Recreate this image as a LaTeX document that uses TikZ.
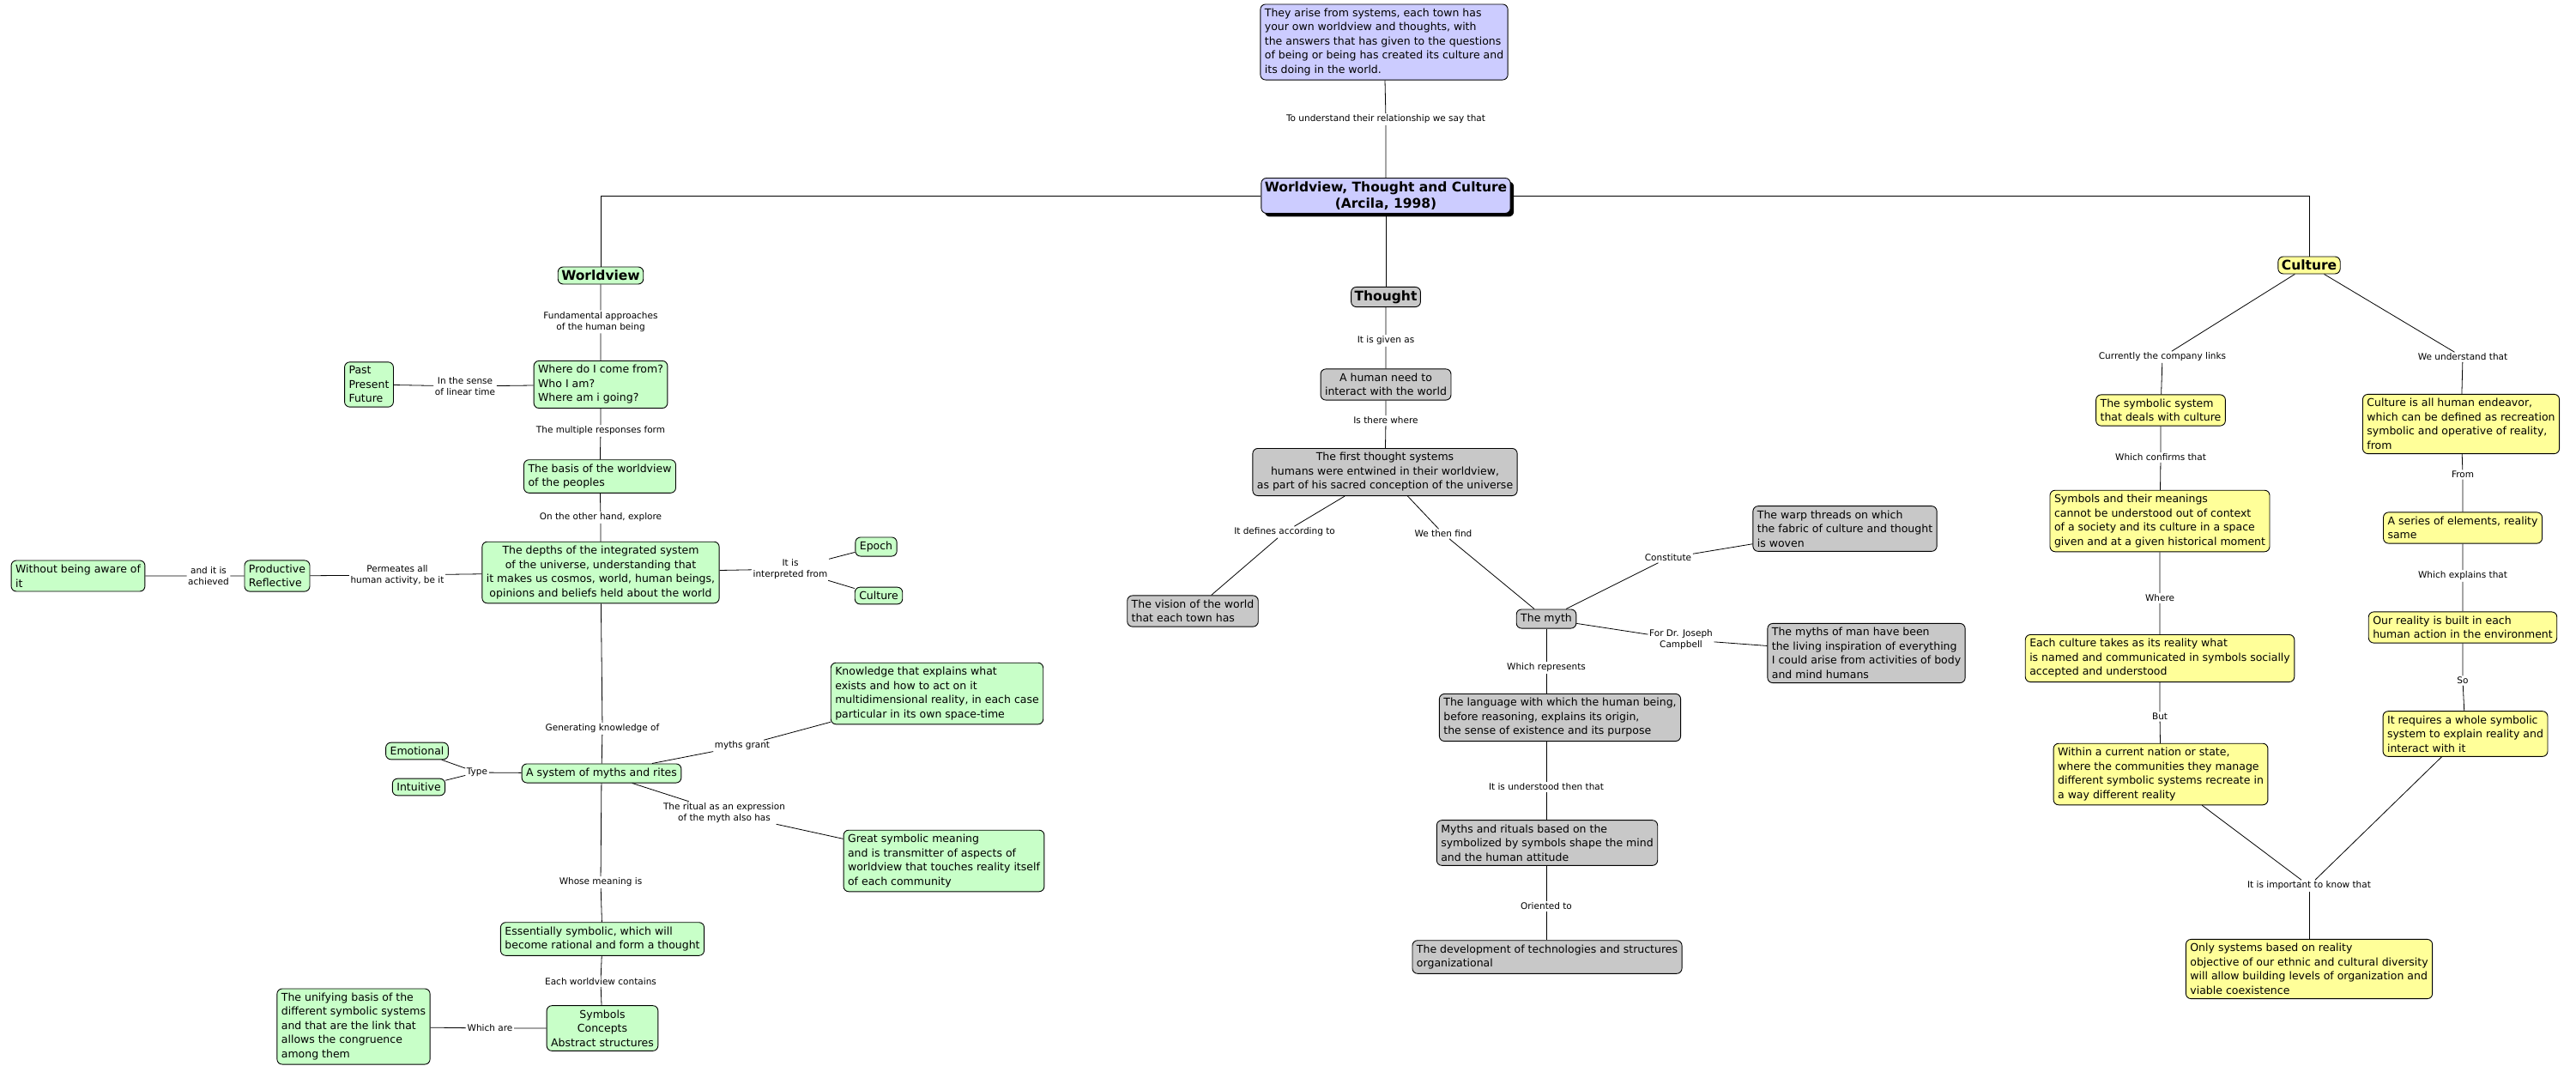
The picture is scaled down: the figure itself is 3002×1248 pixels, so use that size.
\documentclass[tikz,border=0pt]{standalone}
\usepackage{fontspec}
\setmainfont{DejaVu Sans}
\usetikzlibrary{positioning, shadows}

\definecolor{wvgreen}{HTML}{C8FFC8}
\definecolor{thgray}{HTML}{C8C8C8}
\definecolor{cuyellow}{HTML}{FFFF99}
\definecolor{tiblue}{HTML}{CCCCFF}

\tikzset{
  box/.style={draw=black, line width=0.9pt, rounded corners=6pt, inner sep=5pt,
    font=\fontsize{12.5}{16.5}\selectfont},
  green/.style={box, fill=wvgreen},
  gray/.style={box, fill=thgray},
  yellow/.style={box, fill=cuyellow},
  blue/.style={box, fill=tiblue},
  head/.style={font=\bfseries\fontsize{15.5}{19}\selectfont, inner sep=4pt},
  lbl/.style={inner sep=1.5pt, align=center, font=\fontsize{10.5}{13}\selectfont},
  link/.style={line width=0.8pt},
}

\begin{document}
\begin{tikzpicture}[x=1pt, y=-1pt]
        \useasboundingbox (0, 0) rectangle (3002, 1248);

        % title and the three branches
        \node[blue, align=left] (top) at (1613, 49) {They arise from systems, each town has\\your own worldview and thoughts, with\\the answers that has given to the questions\\of being or being has created its culture and\\its doing in the world.};
        \node[blue, head, align=center, drop shadow={fill=black, opacity=1, shadow xshift=4pt, shadow yshift=-4pt}] (title) at (1615, 228) {Worldview, Thought and Culture\\(Arcila, 1998)};
        \node[lbl] (ltop) at (1615, 139) {To understand their relationship we say that};
        \node[green, head] (wv) at (700, 321) {Worldview};
        \node[gray, head] (th) at (1615, 346) {Thought};
        \node[yellow, head] (cul) at (2691, 309) {Culture};

        \draw[link] (top) -- (ltop) -- (title);
        \draw[link] (title.west) -| (wv.north);
        \draw[link] (title.east) -| (cul.north);
        \draw[link] (title) -- (th);

        % worldview
        \node[lbl] (lfund) at (700, 375) {Fundamental approaches\\of the human being};
        \node[green, align=left] (where) at (700, 448) {Where do I come from?\\Who I am?\\Where am i going?};
        \node[green, align=left] (past) at (430, 448) {Past\\Present\\Future};
        \node[lbl] (lsense) at (542, 450) {In the sense\\of linear time};
        \node[lbl] (lmult) at (700, 502) {The multiple responses form};
        \node[green, align=left] (basis) at (699, 555) {The basis of the worldview\\ of the peoples};
        \node[lbl] (lother) at (700, 603) {On the other hand, explore};
        \node[green, align=center] (depths) at (700, 667) {The depths of the integrated system\\of the universe, understanding that\\it makes us cosmos, world, human beings,\\opinions and beliefs held about the world};
        \node[lbl] (lperm) at (463, 670) {Permeates all\\human activity, be it};
        \node[green, align=left] (prod) at (323, 671) {Productive\\Reflective};
        \node[lbl] (lach) at (243, 671) {and it is\\achieved};
        \node[green, align=left] (without) at (91, 671) {Without being aware of\\it};
        \node[lbl] (linterp) at (921, 663) {It is\\interpreted from};
        \node[green] (epoch) at (1021, 637) {Epoch};
        \node[green] (culw) at (1024, 694) {Culture};

        \node[lbl] (lgen) at (702, 849) {Generating knowledge of};
        \node[green] (myths) at (701, 901) {A system of myths and rites};
        \node[green] (emo) at (486, 875) {Emotional};
        \node[green] (intu) at (488, 917) {Intuitive};
        \node[lbl] (ltype) at (556, 900) {Type};
        \node[lbl] (lgrant) at (865, 869) {myths grant};
        \node[green, align=left] (know) at (1092, 808) {Knowledge that explains what\\exists and how to act on it\\multidimensional reality, in each case\\particular in its own space-time};
        \node[lbl] (lritual) at (844, 947) {The ritual as an expression\\of the myth also has};
        \node[green, align=left] (great) at (1100, 1003) {Great symbolic meaning\\and is transmitter of aspects of\\worldview that touches reality itself\\of each community};
        \node[lbl] (lwhose) at (700, 1028) {Whose meaning is};
        \node[green, align=left] (ess) at (702, 1094) {Essentially symbolic, which will\\become rational and form a thought};
        \node[lbl] (leach) at (700, 1144) {Each worldview contains};
        \node[green, align=center] (sym) at (702, 1198) {Symbols\\Concepts\\Abstract structures};
        \node[lbl] (lare) at (571, 1198) {Which are};
        \node[green, align=left] (unif) at (412, 1196) {The unifying basis of the\\different symbolic systems\\and that are the link that\\allows the congruence\\among them};

        \draw[link] (wv) -- (lfund) -- (where) -- (lmult) -- (basis) -- (lother) -- (depths);
        \draw[link] (where) -- (lsense) -- (past);
        \draw[link] (depths) -- (lperm) -- (prod) -- (lach) -- (without);
        \draw[link] (depths) -- (linterp);
        \draw[link] (linterp) -- (epoch);
        \draw[link] (linterp) -- (culw);
        \draw[link] (depths) -- (lgen) -- (myths) -- (lwhose) -- (ess) -- (leach) -- (sym) -- (lare) -- (unif);
        \draw[link] (myths) -- (ltype);
        \draw[link] (ltype) -- (emo);
        \draw[link] (ltype) -- (intu);
        \draw[link] (myths) -- (lgrant) -- (know);
        \draw[link] (myths) -- (lritual) -- (great);

        % thought
        \node[lbl] (lgiven) at (1615, 397) {It is given as};
        \node[gray, align=center] (need) at (1615, 448) {A human need to\\interact with the world};
        \node[lbl] (lthere) at (1615, 490) {Is there where};
        \node[gray, align=center] (first) at (1614, 550) {The first thought systems\\humans were entwined in their worldview,\\as part of his sacred conception of the universe};
        \node[lbl] (ldef) at (1497, 620) {It defines according to};
        \node[gray, align=left] (vision) at (1390, 712) {The vision of the world\\that each town has};
        \node[lbl] (lfind) at (1682, 622) {We then find};
        \node[gray] (myth) at (1802, 721) {The myth};
        \node[lbl] (lconst) at (1944, 650) {Constitute};
        \node[gray, align=left] (warp) at (2150, 616) {The warp threads on which\\the fabric of culture and thought\\ is woven};
        \node[lbl] (lcamp) at (1959, 745) {For Dr. Joseph\\Campbell};
        \node[gray, align=left] (camp) at (2175, 761) {The myths of man have been\\the living inspiration of everything\\I could arise from activities of body\\and mind humans};
        \node[lbl] (lrep) at (1802, 778) {Which represents};
        \node[gray, align=left] (lang) at (1818, 836) {The language with which the human being,\\before reasoning, explains its origin,\\the sense of existence and its purpose};
        \node[lbl] (lunder) at (1802, 917) {It is understood then that};
        \node[gray, align=left] (rites) at (1803, 982) {Myths and rituals based on the\\symbolized by symbols shape the mind\\and the human attitude};
        \node[lbl] (lorient) at (1802, 1056) {Oriented to};
        \node[gray, align=left] (dev) at (1803, 1115) {The development of technologies and structures\\organizational};

        \draw[link] (th) -- (lgiven) -- (need) -- (lthere) -- (first);
        \draw[link] (first) -- (ldef) -- (vision);
        \draw[link] (first) -- (lfind) -- (myth);
        \draw[link] (myth) -- (lconst) -- (warp);
        \draw[link] (myth) -- (lcamp) -- (camp);
        \draw[link] (myth) -- (lrep) -- (lang.north -| myth.south);
        \draw[link] (lang.south -| myth.south) -- (lunder) -- (rites.north -| myth.south);
        \draw[link] (rites.south -| myth.south) -- (lorient) -- (dev.north -| myth.south);

        % culture
        \node[lbl] (llinks) at (2520, 416) {Currently the company links};
        \node[yellow, align=left] (symsys) at (2518, 478) {The symbolic system\\that deals with culture};
        \node[lbl] (lconf) at (2518, 533) {Which confirms that};
        \node[yellow, align=left] (symb) at (2517, 607) {Symbols and their meanings\\cannot be understood out of context\\of a society and its culture in a space\\given and at a given historical moment};
        \node[lbl] (lwhere) at (2517, 697) {Where};
        \node[yellow, align=left] (each) at (2517, 767) {Each culture takes as its reality what\\is named and communicated in symbols socially\\accepted and understood};
        \node[lbl] (lbut) at (2517, 835) {But};
        \node[yellow, align=left] (within) at (2518, 902) {Within a current nation or state,\\where the communities they manage\\different symbolic systems recreate in\\a way different reality};
        \node[lbl] (lunder2) at (2870, 416) {We understand that};
        \node[yellow, align=left] (endeav) at (2868, 494) {Culture is all human endeavor,\\which can be defined as recreation\\symbolic and operative of reality,\\from};
        \node[lbl] (lfrom) at (2870, 553) {From};
        \node[yellow, align=left] (series) at (2870, 615) {A series of elements, reality\\same};
        \node[lbl] (lexpl) at (2870, 671) {Which explains that};
        \node[yellow, align=left] (built) at (2870, 731) {Our reality is built in each\\human action in the environment};
        \node[lbl] (lso) at (2870, 793) {So};
        \node[yellow, align=left] (req) at (2873, 855) {It requires a whole symbolic\\system to explain reality and\\interact with it};
        \node[lbl] (limp) at (2691, 1032) {It is important to know that};
        \node[yellow, align=left] (only) at (2691, 1129) {Only systems based on reality\\objective of our ethnic and cultural diversity\\will allow building levels of organization and\\viable coexistence};

        \draw[link] (cul) -- (llinks) -- (symsys) -- (lconf) -- (symb) -- (lwhere) -- (each) -- (lbut) -- (within) -- (limp);
        \draw[link] (cul) -- (lunder2) -- (endeav) -- (lfrom) -- (series) -- (lexpl) -- (built) -- (lso) -- (req) -- (limp);
        \draw[link] (limp) -- (only);

\end{tikzpicture}
\end{document}
